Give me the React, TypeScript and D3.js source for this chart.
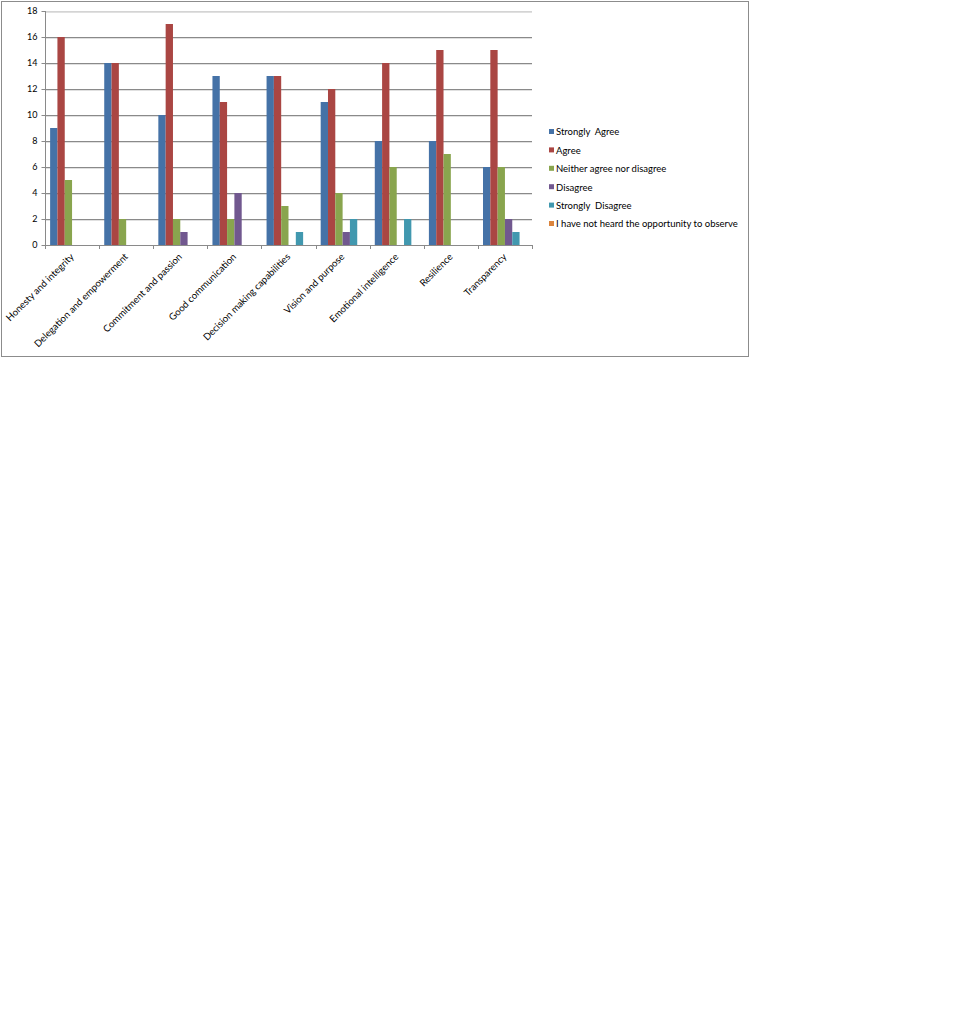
import React, { useEffect, useRef } from 'react';
import * as d3 from 'd3';

const categories = [
  'Honesty and integrity',
  'Delegation and empowerment',
  'Commitment and passion',
  'Good communication',
  'Decision making capabilities',
  'Vision and purpose',
  'Emotional intelligence',
  'Resilience',
  'Transparency',
];

const seriesNames = [
  'Strongly  Agree',
  'Agree',
  'Neither agree nor disagree',
  'Disagree',
  'Strongly  Disagree',
  'I have not heard the opportunity to observe',
];

const stronglyAgree = [9, 14, 10, 13, 13, 11, 8, 8, 6];
const agree = [16, 14, 17, 11, 13, 12, 14, 15, 15];
const neither = [5, 2, 2, 2, 3, 4, 6, 7, 6];
const disagree = [0, 0, 1, 4, 0, 1, 0, 0, 2];
const stronglyDisagree = [0, 0, 0, 0, 1, 2, 2, 0, 1];
const notObserved = [0, 0, 0, 0, 0, 0, 0, 0, 0];

const yTicks = [0, 2, 4, 6, 8, 10, 12, 14, 16, 18];

const colors = ['#4572A7', '#AA4643', '#89A54E', '#71588F', '#4198AF', '#DB843D'];

export default function App() {
  const svgRef = useRef<SVGSVGElement>(null);

  useEffect(() => {
    if (!svgRef.current) return;
    const svg = d3.select(svgRef.current);
    svg.selectAll('*').remove();

    const values = [stronglyAgree, agree, neither, disagree, stronglyDisagree, notObserved];
    const font = 'Lato, "Open Sans", sans-serif';

    // outer frame
    svg.append('rect')
      .attr('x', 1.5).attr('y', 1.5)
      .attr('width', 747).attr('height', 355)
      .attr('fill', '#fff')
      .attr('stroke', '#8c8c8c')
      .attr('stroke-width', 1);

    const left = 45, right = 532, top = 11, bottom = 245;

    const x0 = d3.scaleBand<string>().domain(categories).range([left, right]).padding(0);
    const x1 = d3.scaleBand<string>().domain(seriesNames).range([0, x0.bandwidth()])
      .paddingInner(0).paddingOuter(0.7);
    const y = d3.scaleLinear().domain([0, 18]).range([bottom, top]);

    // gridlines
    svg.append('g').selectAll('line')
      .data(yTicks.slice(1))
      .enter().append('line')
      .attr('x1', left).attr('x2', right)
      .attr('y1', d => Math.round(y(d)) + 0.5)
      .attr('y2', d => Math.round(y(d)) + 0.5)
      .attr('stroke', d => d === 18 ? '#d4d4d4' : '#8a8a8a')
      .attr('stroke-width', 1);
    svg.append('g').selectAll('line')
      .data(yTicks.slice(1))
      .enter().append('line')
      .attr('x1', left).attr('x2', right)
      .attr('y1', d => Math.round(y(d)) + 1.5)
      .attr('y2', d => Math.round(y(d)) + 1.5)
      .attr('stroke', '#e0e0e0')
      .attr('stroke-width', 1);

    // bars
    const groups = svg.append('g').selectAll('g')
      .data(categories)
      .enter().append('g')
      .attr('transform', d => `translate(${x0(d)},0)`);

    groups.selectAll('rect')
      .data((c, ci) => seriesNames.map((s, si) => ({ s, si, v: values[si][ci] })))
      .enter().append('rect')
      .filter(d => d.v > 0)
      .attr('x', d => x1(d.s)!)
      .attr('width', x1.bandwidth())
      .attr('y', d => y(d.v))
      .attr('height', d => y(0) - y(d.v))
      .attr('fill', d => colors[d.si]);

    // y axis
    const yAxis = svg.append('g').attr('transform', `translate(${left + 0.5},0)`);
    yAxis.append('line')
      .attr('y1', top).attr('y2', bottom)
      .attr('stroke', '#8a8a8a');
    yAxis.selectAll('line.tick')
      .data(yTicks)
      .enter().append('line')
      .attr('class', 'tick')
      .attr('x1', -4).attr('x2', 0)
      .attr('y1', d => Math.round(y(d)) + 0.5)
      .attr('y2', d => Math.round(y(d)) + 0.5)
      .attr('stroke', '#8a8a8a');
    yAxis.selectAll('text')
      .data(yTicks)
      .enter().append('text')
      .attr('x', -8)
      .attr('y', d => y(d))
      .attr('dy', '0.35em')
      .attr('text-anchor', 'end')
      .attr('font-family', font)
      .attr('font-size', 9)
      .attr('fill', '#000')
      .text(d => d);

    // x axis
    const xAxis = svg.append('g');
    xAxis.append('line')
      .attr('x1', left).attr('x2', right)
      .attr('y1', bottom + 0.5).attr('y2', bottom + 0.5)
      .attr('stroke', '#8a8a8a');
    xAxis.selectAll('line.tick')
      .data(categories.concat(['']))
      .enter().append('line')
      .attr('class', 'tick')
      .attr('x1', (d, i) => Math.round(left + i * x0.step()) + 0.5)
      .attr('x2', (d, i) => Math.round(left + i * x0.step()) + 0.5)
      .attr('y1', bottom).attr('y2', bottom + 4)
      .attr('stroke', '#8a8a8a');
    xAxis.selectAll('text')
      .data(categories)
      .enter().append('text')
      .attr('transform', d => `translate(${x0(d)! + x0.bandwidth() / 2},${bottom + 10}) rotate(-45)`)
      .attr('text-anchor', 'end')
      .attr('dy', '0.35em')
      .attr('font-family', font)
      .attr('font-size', 9.6)
      .attr('fill', '#000')
      .text(d => d);

    // legend
    const legend = svg.append('g').attr('transform', 'translate(549,132)');
    const rows = legend.selectAll('g')
      .data(seriesNames)
      .enter().append('g')
      .attr('transform', (d, i) => `translate(0,${i * 18.4})`);
    rows.append('rect')
      .attr('x', 0).attr('y', -3)
      .attr('width', 5).attr('height', 5)
      .attr('fill', (d, i) => colors[i]);
    rows.append('text')
      .attr('x', 7)
      .attr('y', 0)
      .attr('dy', '0.35em')
      .attr('font-family', font)
      .attr('font-size', 9.5)
      .attr('fill', '#000')
      .style('white-space', 'pre')
      .text(d => d);
  }, []);

  return (
    <svg
      ref={svgRef}
      width={960}
      height={1024}
      style={{ position: 'absolute', left: 0, top: 0, background: '#fff' }}
    />
  );
}
